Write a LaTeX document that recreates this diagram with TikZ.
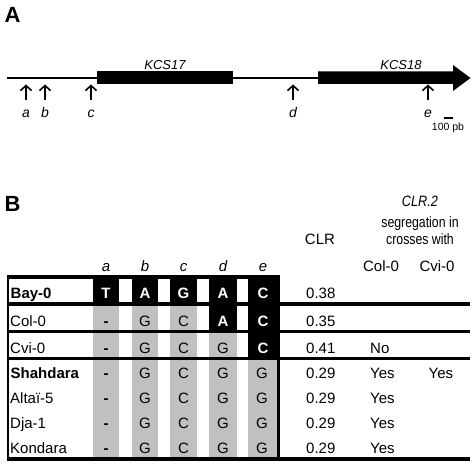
\documentclass[tikz,border=0pt]{standalone}
\usepackage{fontspec}
\setmainfont{Liberation Sans}
\usetikzlibrary{arrows.meta}
\definecolor{cellgrey}{RGB}{192,192,192}
\begin{document}
\begin{tikzpicture}[x=1pt,y=-1pt,
  lbl/.style={inner sep=0pt,anchor=base,font=\fontsize{15}{15}\selectfont},
  lblw/.style={lbl,anchor=base west},
  snp/.style={line width=1.6pt,-{Straight Barb[length=5pt,width=11pt]}},
  snplbl/.style={inner sep=0pt,anchor=base,font=\fontsize{14}{14}\selectfont\itshape},
  tline/.style={line width=3.5pt},
  panel/.style={inner sep=0pt,anchor=base west,font=\fontsize{22}{22}\selectfont\bfseries}]
\useasboundingbox (0,0) rectangle (474,465);
% ---------- Panel A ----------
\node[panel] (pA) at (4.5,22.5) {A};
\coordinate (l0) at (7,78);
\coordinate (l1) at (318,78);
\draw[line width=2pt] (l0) -- (l1);
\fill (97,71.5) rectangle (233,84);
\fill (318,71.5) -- (453,71.5) -- (453,65) -- (470.5,78) -- (453,91) -- (453,84) -- (318,84) -- cycle;
\node[inner sep=0pt,anchor=base,font=\fontsize{13}{13}\selectfont\itshape] (k17) at (165,69.5) {KCS17};
\node[inner sep=0pt,anchor=base,font=\fontsize{13}{13}\selectfont\itshape] (k18) at (401,69.5) {KCS18};
\foreach \n/\x in {a/26,b/45,c/91,d/293,e/428}{
  \coordinate (t\n) at (\x,100.5);
  \coordinate (h\n) at (\x,84.5);
  \draw[snp] (t\n) -- (h\n);
  \node[snplbl] (s\n) at (\x,117.5) {\n};
}
\coordinate (sb0) at (444,118.5);
\coordinate (sb1) at (453,118.5);
\draw[line width=2pt] (sb0) -- (sb1);
\node[inner sep=0pt,anchor=base,font=\fontsize{10.5}{10.5}\selectfont] (pb) at (448,131) {100 pb};
% ---------- Panel B ----------
\node[panel] (pB) at (4.5,211.5) {B};
\node[lbl,font=\fontsize{15}{15}\selectfont\itshape] (h1) at (420,206.5) {\scalebox{0.85}[1]{CLR.2}};
\node[lbl] (h2) at (420,228) {\scalebox{0.82}[1]{segregation in}};
\node[lbl] (h3) at (420,245) {\scalebox{0.82}[1]{crosses with}};
\node[lbl] (hclr) at (320,245) {CLR};
\node[lbl] (hcol) at (381,272) {Col-0};
\node[lbl] (hcvi) at (437,272) {Cvi-0};
\foreach \n/\x in {a/106,b/145,c/183.5,d/223,e/263}{
  \node[lbl,font=\fontsize{15}{15}\selectfont\itshape] (c\n) at (\x,272) {\n};
}
% cell fills
\foreach \xa/\xb in {93/119,132/158,170/197,209/237,248/279}{
  \fill (\xa,277) rectangle (\xb,304);
}
\fill[cellgrey] (93,304) rectangle (119,331.5);
\fill[cellgrey] (132,304) rectangle (158,331.5);
\fill[cellgrey] (170,304) rectangle (197,331.5);
\fill (209,304) rectangle (237,331.5);
\fill (248,304) rectangle (279,331.5);
\fill[cellgrey] (93,331.5) rectangle (119,358.5);
\fill[cellgrey] (132,331.5) rectangle (158,358.5);
\fill[cellgrey] (170,331.5) rectangle (197,358.5);
\fill[cellgrey] (209,331.5) rectangle (237,358.5);
\fill (248,331.5) rectangle (279,358.5);
\foreach \xa/\xb in {93/119,132/158,170/197,209/237,248/279}{
  \fill[cellgrey] (\xa,358.5) rectangle (\xb,459);
}
% table lines
\draw[line width=4pt] (7,277) -- (279.5,277);
\foreach \y in {304,331.5,358.5,459}{
  \draw[tline] (7,\y) -- (470,\y);
}
\draw[line width=2pt] (8,275) -- (8,460.75);
\draw[line width=3pt] (278.5,277) -- (278.5,459);
% white Bay-0 name cell
\fill[white] (9,279) rectangle (92.5,302.25);
% rows
\node[lblw,font=\fontsize{15}{15}\selectfont\bfseries] (r1) at (10.5,298.5) {Bay-0};
\node[lblw] (r2) at (10,326.5) {Col-0};
\node[lblw] (r3) at (10,353.5) {Cvi-0};
\node[lblw,font=\fontsize{15}{15}\selectfont\bfseries] (r4) at (10.5,378.5) {Shahdara};
\node[lblw] (r5) at (10,403.5) {Altaï-5};
\node[lblw] (r6) at (10,428.5) {Dja-1};
\node[lblw] (r7) at (10,453.5) {Kondara};
% alleles
\node[lbl,text=white,font=\fontsize{15}{15}\selectfont\bfseries] (b1a) at (106,298.5) {T};
\node[lbl,text=white,font=\fontsize{15}{15}\selectfont\bfseries] (b1b) at (145,298.5) {A};
\node[lbl,text=white,font=\fontsize{15}{15}\selectfont\bfseries] (b1c) at (183.5,298.5) {G};
\node[lbl,text=white,font=\fontsize{15}{15}\selectfont\bfseries] (b1d) at (223,298.5) {A};
\node[lbl,text=white,font=\fontsize{15}{15}\selectfont\bfseries] (b1e) at (263,298.5) {C};
\node[lbl,font=\fontsize{15}{15}\selectfont\bfseries] (b2a) at (106,326.5) {-};
\node[lbl] (b2b) at (145,326.5) {G};
\node[lbl] (b2c) at (183.5,326.5) {C};
\node[lbl,text=white,font=\fontsize{15}{15}\selectfont\bfseries] (b2d) at (223,326.5) {A};
\node[lbl,text=white,font=\fontsize{15}{15}\selectfont\bfseries] (b2e) at (263,326.5) {C};
\node[lbl,font=\fontsize{15}{15}\selectfont\bfseries] (b3a) at (106,353.5) {-};
\node[lbl] (b3b) at (145,353.5) {G};
\node[lbl] (b3c) at (183.5,353.5) {C};
\node[lbl] (b3d) at (223,353.5) {G};
\node[lbl,text=white,font=\fontsize{15}{15}\selectfont\bfseries] (b3e) at (263,353.5) {C};
\foreach \r/\y in {4/378.5,5/403.5,6/428.5,7/453.5}{
  \node[lbl,font=\fontsize{15}{15}\selectfont\bfseries] (b\r a) at (106,\y) {-};
  \node[lbl] (b\r b) at (145,\y) {G};
  \node[lbl] (b\r c) at (183.5,\y) {C};
  \node[lbl] (b\r d) at (223,\y) {G};
  \node[lbl] (b\r e) at (262,\y) {G};
}
% CLR values and segregation
\node[lblw] (v1) at (306,298.5) {0.38};
\node[lblw] (v2) at (306,326.5) {0.35};
\node[lblw] (v3) at (306,353.5) {0.41};
\node[lblw] (v4) at (306,378.5) {0.29};
\node[lblw] (v5) at (306,403.5) {0.29};
\node[lblw] (v6) at (306,428.5) {0.29};
\node[lblw] (v7) at (306,453.5) {0.29};
\node[lblw] (g3) at (370,353.5) {No};
\node[lblw] (g4) at (370,378.5) {Yes};
\node[lblw] (g5) at (370,403.5) {Yes};
\node[lblw] (g6) at (370,428.5) {Yes};
\node[lblw] (g7) at (370,453.5) {Yes};
\node[lblw] (q4) at (428.5,378.5) {Yes};
\end{tikzpicture}
\end{document}
